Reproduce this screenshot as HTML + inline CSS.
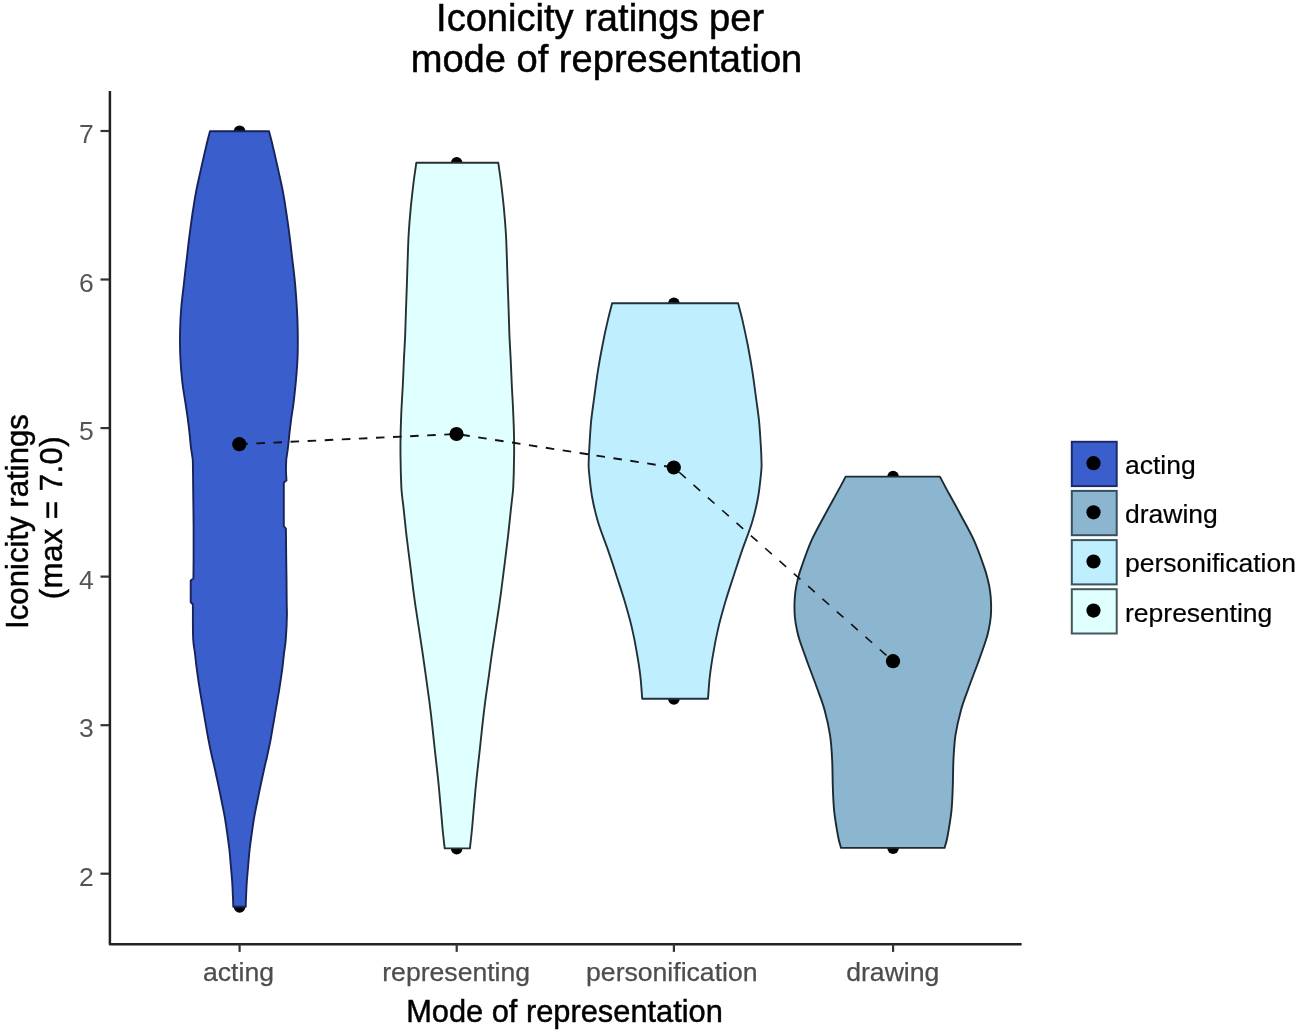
<!DOCTYPE html>
<html lang="en"><head><meta charset="utf-8"><title>Iconicity ratings per mode of representation</title>
<style>html,body{margin:0;padding:0;background:#fff}svg{display:block;filter:blur(0.45px)}text{font-family:"Liberation Sans",Arial,sans-serif}</style></head><body>
<svg width="1299" height="1031" viewBox="0 0 1299 1031">
<rect width="1299" height="1031" fill="#fff"/>
<g font-size="38.1" fill="#000" stroke="#000" stroke-width="0.5" text-anchor="middle"><text x="600.1" y="31.2">Iconicity ratings per</text><text x="606.5" y="71.9">mode of representation</text></g>
<circle cx="239.6" cy="131.2" r="5.8" fill="#000"/>
<circle cx="239.6" cy="907.0" r="5.8" fill="#000"/>
<circle cx="456.7" cy="162.8" r="5.8" fill="#000"/>
<circle cx="456.7" cy="848.6" r="5.8" fill="#000"/>
<circle cx="673.9" cy="303.3" r="5.8" fill="#000"/>
<circle cx="673.9" cy="698.9" r="5.8" fill="#000"/>
<circle cx="893.1" cy="476.6" r="5.8" fill="#000"/>
<circle cx="893.1" cy="848.1" r="5.8" fill="#000"/>
<path d="M210.0 131.2C209.2 134.4 208.3 137.7 207.5 140.8C206.7 143.9 206.5 144.9 205.3 150.0C204.1 155.1 202.0 164.4 200.4 171.6C198.8 178.8 197.1 185.9 195.8 193.1C194.5 200.3 193.4 207.5 192.3 214.7C191.3 221.9 190.3 229.2 189.4 236.2C188.5 243.2 187.9 248.9 187.0 256.5C186.1 264.1 185.0 273.4 184.1 281.8C183.2 290.2 182.0 299.0 181.3 307.0C180.6 315.0 180.3 321.8 180.1 330.0C179.9 338.2 180.0 347.7 180.3 356.2C180.7 364.7 181.3 373.1 182.2 380.9C183.0 388.6 184.5 396.6 185.4 402.7C186.3 408.8 186.9 412.4 187.6 417.3C188.2 422.2 188.9 427.0 189.4 431.8C189.9 436.6 190.4 442.5 190.8 446.4C191.3 450.3 191.8 452.7 192.1 455.1C192.4 457.5 192.7 458.1 192.8 460.9C193.0 463.7 192.9 468.7 193.0 472.0C193.1 475.3 193.1 478.8 193.1 480.5C193.1 482.2 193.1 479.4 193.1 482.5C193.1 485.6 193.2 491.8 193.3 499.0C193.4 506.2 193.6 521.1 193.6 526.0C193.6 530.9 193.6 523.3 193.6 528.5C193.6 533.7 193.6 548.7 193.6 557.0C193.6 565.3 193.4 578.5 193.4 578.5L190.7 580.5L190.7 602.0L192.9 604.5C192.9 604.5 192.9 609.2 192.9 615.0C192.9 620.8 192.8 632.7 193.2 639.1C193.5 645.5 194.4 648.8 195.0 653.6C195.6 658.5 196.0 663.4 196.7 668.2C197.3 673.1 198.0 677.9 198.7 682.7C199.4 687.6 200.2 692.4 201.1 697.3C201.9 702.1 202.7 706.9 203.6 711.8C204.4 716.6 205.2 721.5 206.1 726.4C206.9 731.2 207.7 736.0 208.7 740.9C209.6 745.8 210.8 751.2 211.7 755.5C212.6 759.8 213.3 761.9 214.3 766.5C215.3 771.1 216.7 777.5 217.9 783.0C219.1 788.5 220.2 794.0 221.3 799.5C222.4 805.0 223.6 810.5 224.6 816.0C225.6 821.5 226.3 827.0 227.1 832.5C227.9 838.0 228.7 843.5 229.3 849.0C230.0 854.5 230.3 860.0 230.8 865.5C231.3 871.0 231.8 876.5 232.2 882.0C232.6 887.5 232.8 894.4 233.0 898.5C233.2 902.6 233.2 904.0 233.3 906.8L245.7 906.8C245.8 904.0 245.8 902.6 246.0 898.5C246.2 894.4 246.4 887.5 246.8 882.0C247.2 876.5 247.7 871.0 248.2 865.5C248.7 860.0 249.0 854.5 249.7 849.0C250.3 843.5 251.1 838.0 251.9 832.5C252.7 827.0 253.4 821.5 254.4 816.0C255.4 810.5 256.6 805.0 257.7 799.5C258.8 794.0 259.9 788.5 261.1 783.0C262.3 777.5 263.7 771.1 264.7 766.5C265.7 761.9 266.4 759.8 267.3 755.5C268.2 751.2 269.4 745.8 270.4 740.9C271.3 736.0 272.1 731.2 272.9 726.4C273.8 721.5 274.6 716.6 275.4 711.8C276.3 706.9 277.1 702.1 277.9 697.3C278.8 692.4 279.6 687.6 280.3 682.7C281.0 677.9 281.7 673.1 282.4 668.2C283.0 663.4 283.4 658.5 284.0 653.6C284.6 648.8 285.3 645.5 285.8 639.1C286.3 632.7 286.8 620.8 286.9 615.0C287.0 609.2 286.7 606.7 286.7 604.5C286.7 602.3 286.7 606.0 286.7 602.0C286.7 598.0 286.5 584.4 286.5 580.5C286.5 576.6 286.6 582.4 286.5 578.5C286.4 574.6 286.3 565.3 286.2 557.0C286.1 548.7 285.9 528.5 285.9 528.5L283.8 526.0C283.8 526.0 283.8 506.2 283.8 499.0C283.8 491.8 283.8 482.5 283.8 482.5L286.5 480.5C286.5 480.5 286.1 475.3 286.0 472.0C285.9 468.7 286.1 463.7 286.2 460.9C286.3 458.1 286.6 457.5 286.9 455.1C287.2 452.7 287.7 450.3 288.1 446.4C288.6 442.5 289.1 436.6 289.6 431.8C290.2 427.0 290.8 422.2 291.4 417.3C292.1 412.4 292.9 408.8 293.6 402.7C294.3 396.6 295.2 388.6 295.9 380.9C296.6 373.1 297.3 364.7 297.6 356.2C297.9 347.7 297.8 338.2 297.7 330.0C297.6 321.8 297.3 315.0 296.8 307.0C296.3 299.0 295.7 290.2 294.9 281.8C294.1 273.4 292.9 264.1 292.0 256.5C291.1 248.9 290.5 243.2 289.6 236.2C288.7 229.2 287.7 221.9 286.6 214.7C285.6 207.5 284.5 200.3 283.2 193.1C281.9 185.9 280.2 178.8 278.6 171.6C277.0 164.4 274.9 155.1 273.7 150.0C272.5 144.9 272.3 143.9 271.5 140.8C270.7 137.7 269.8 134.4 269.0 131.2Z" fill="#3A5FCD" stroke="#172359" stroke-width="1.9" stroke-linejoin="round"/>
<path d="M416.3 162.8C415.4 169.5 414.4 175.4 413.5 183.0C412.6 190.6 411.5 199.9 410.7 208.3C409.9 216.7 409.2 225.1 408.7 233.5C408.2 241.9 408.0 250.3 407.7 258.7C407.4 267.1 407.2 275.5 406.9 283.9C406.6 292.3 406.3 300.8 406.0 309.2C405.7 317.6 405.5 326.0 405.2 334.4C404.9 342.8 404.3 351.1 403.9 359.6C403.6 368.1 403.2 376.7 402.8 385.2C402.4 393.7 401.8 402.0 401.4 410.4C401.1 418.8 400.7 427.3 400.6 435.7C400.4 444.1 400.4 452.5 400.6 460.9C400.7 469.3 401.0 479.8 401.3 486.1C401.6 492.4 402.0 494.5 402.4 498.7C402.9 502.9 403.3 505.0 403.9 511.3C404.6 517.6 405.6 528.1 406.6 536.5C407.6 544.9 408.7 553.4 409.8 561.8C410.8 570.2 411.8 578.6 412.9 587.0C414.0 595.4 414.8 601.6 416.4 612.2C418.0 622.8 420.7 639.8 422.2 650.4C423.8 661.0 424.6 667.3 425.8 675.7C426.9 684.1 428.2 692.5 429.3 700.9C430.4 709.3 431.4 717.7 432.3 726.1C433.2 734.5 434.1 742.9 435.0 751.3C435.9 759.7 436.9 768.1 437.8 776.5C438.7 784.9 439.5 793.4 440.2 801.8C441.0 810.2 441.7 819.2 442.4 827.0C443.1 834.8 443.9 841.3 444.7 848.4L469.9 848.4C470.7 841.3 471.5 834.8 472.2 827.0C472.9 819.2 473.6 810.2 474.4 801.8C475.1 793.4 475.9 784.9 476.8 776.5C477.7 768.1 478.7 759.7 479.6 751.3C480.5 742.9 481.4 734.5 482.3 726.1C483.2 717.7 484.2 709.3 485.3 700.9C486.4 692.5 487.7 684.1 488.9 675.7C490.0 667.3 490.8 661.0 492.4 650.4C493.9 639.8 496.6 622.8 498.2 612.2C499.8 601.6 500.6 595.4 501.7 587.0C502.8 578.6 503.8 570.2 504.9 561.8C505.9 553.4 507.0 544.9 508.0 536.5C509.0 528.1 510.0 517.6 510.7 511.3C511.3 505.0 511.7 502.9 512.1 498.7C512.6 494.5 513.0 492.4 513.3 486.1C513.6 479.8 513.9 469.3 514.0 460.9C514.2 452.5 514.2 444.1 514.0 435.7C513.9 427.3 513.5 418.8 513.1 410.4C512.8 402.0 512.2 393.7 511.8 385.2C511.4 376.7 511.1 368.1 510.7 359.6C510.3 351.1 509.7 342.8 509.4 334.4C509.1 326.0 508.9 317.6 508.6 309.2C508.3 300.8 508.0 292.3 507.7 283.9C507.4 275.5 507.2 267.1 506.9 258.7C506.6 250.3 506.4 241.9 505.9 233.5C505.4 225.1 504.7 216.7 503.9 208.3C503.1 199.9 502.0 190.6 501.1 183.0C500.2 175.4 499.2 169.5 498.3 162.8Z" fill="#E0FFFF" stroke="#263232" stroke-width="1.9" stroke-linejoin="round"/>
<path d="M612.1 303.3C610.6 309.0 609.4 313.3 607.8 320.4C606.1 327.5 604.0 337.3 602.4 345.7C600.7 354.1 599.2 362.5 597.9 370.9C596.6 379.3 595.5 387.7 594.4 396.1C593.3 404.5 592.0 412.9 591.1 421.3C590.3 429.7 589.8 439.8 589.4 446.5C588.9 453.2 588.8 457.5 588.7 461.7C588.6 465.9 588.4 465.9 589.0 471.8C589.6 477.7 590.6 488.6 592.1 497.0C593.6 505.4 595.4 513.3 598.1 522.2C600.8 531.1 605.0 541.5 608.1 550.4C611.2 559.3 613.8 567.3 616.5 575.7C619.2 584.1 622.1 592.5 624.6 600.9C627.1 609.3 629.5 617.7 631.5 626.1C633.5 634.5 635.2 642.9 636.6 651.3C638.1 659.7 639.5 668.6 640.4 676.5C641.3 684.4 641.6 691.3 642.2 698.7L708.0 698.7C708.6 691.3 708.9 684.4 709.8 676.5C710.7 668.6 712.1 659.7 713.6 651.3C715.0 642.9 716.7 634.5 718.7 626.1C720.7 617.7 723.1 609.3 725.6 600.9C728.1 592.5 731.0 584.1 733.7 575.7C736.5 567.3 739.0 559.3 742.1 550.4C745.2 541.5 749.4 531.1 752.1 522.2C754.8 513.3 756.6 505.4 758.1 497.0C759.6 488.6 760.6 477.7 761.2 471.8C761.8 465.9 761.6 465.9 761.5 461.7C761.4 457.5 761.3 453.2 760.9 446.5C760.4 439.8 759.9 429.7 759.1 421.3C758.2 412.9 756.9 404.5 755.8 396.1C754.7 387.7 753.6 379.3 752.3 370.9C751.0 362.5 749.5 354.1 747.9 345.7C746.2 337.3 744.1 327.5 742.5 320.4C740.8 313.3 739.6 309.0 738.1 303.3Z" fill="#BFEFFF" stroke="#22303c" stroke-width="1.9" stroke-linejoin="round"/>
<path d="M845.7 476.6C843.2 481.2 841.9 483.9 838.3 490.4C834.8 496.9 828.9 507.3 824.4 515.7C819.9 524.1 815.1 532.5 811.3 540.9C807.6 549.3 804.0 559.8 801.8 566.1C799.5 572.4 799.0 574.5 797.9 578.7C796.9 582.9 796.0 587.1 795.4 591.3C794.9 595.5 794.6 599.7 794.5 603.9C794.4 608.1 794.5 612.3 794.8 616.5C795.2 620.7 795.9 625.0 796.8 629.2C797.6 633.4 798.3 636.2 800.1 641.8C802.0 647.4 804.9 655.3 807.7 663.0C810.5 670.7 814.2 680.1 817.0 688.0C819.8 695.9 822.5 702.4 824.7 710.4C826.9 718.4 828.9 727.3 830.1 735.7C831.4 744.1 831.8 752.5 832.2 760.9C832.6 769.3 832.5 777.7 832.8 786.1C833.1 794.5 833.3 802.9 834.2 811.3C835.1 819.7 837.0 830.4 838.1 836.5C839.2 842.6 840.0 844.1 841.0 847.9L944.6 847.9C945.6 844.1 946.4 842.6 947.5 836.5C948.6 830.4 950.5 819.7 951.4 811.3C952.3 802.9 952.5 794.5 952.8 786.1C953.1 777.7 953.0 769.3 953.4 760.9C953.8 752.5 954.2 744.1 955.4 735.7C956.7 727.3 958.7 718.4 960.9 710.4C963.1 702.4 965.8 695.9 968.6 688.0C971.4 680.1 975.1 670.7 977.9 663.0C980.7 655.3 983.6 647.4 985.4 641.8C987.3 636.2 988.0 633.4 988.8 629.2C989.7 625.0 990.4 620.7 990.8 616.5C991.1 612.3 991.2 608.1 991.1 603.9C991.0 599.7 990.7 595.5 990.1 591.3C989.6 587.1 988.7 582.9 987.6 578.7C986.6 574.5 986.1 572.4 983.8 566.1C981.6 559.8 978.0 549.3 974.2 540.9C970.5 532.5 965.6 524.1 961.1 515.7C956.6 507.3 950.8 496.9 947.2 490.4C943.7 483.9 942.4 481.2 939.9 476.6Z" fill="#8CB5CF" stroke="#1c2a32" stroke-width="1.9" stroke-linejoin="round"/>
<polyline points="239.3,444.2 456.5,434.0 673.8,467.5" fill="none" stroke="#111" stroke-width="1.9" stroke-dasharray="8.55 8.55"/>
<path d="M673.8 467.5L893.0 661.2" fill="none" stroke="#111" stroke-width="1.6" stroke-dasharray="8.9 10.22" stroke-dashoffset="11.92"/>
<circle cx="239.3" cy="444.2" r="7.1" fill="#000"/>
<circle cx="456.5" cy="434.0" r="7.1" fill="#000"/>
<circle cx="673.8" cy="467.5" r="7.1" fill="#000"/>
<circle cx="893.0" cy="661.2" r="7.1" fill="#000"/>
<path d="M109.9 91V944.2H1021.6" stroke="#222" stroke-width="2.5" fill="none" stroke-linejoin="round"/>
<g stroke="#333" stroke-width="2.2" fill="none">
<path d="M100.5 873.7H109"/>
<path d="M100.5 725.2H109"/>
<path d="M100.5 576.6H109"/>
<path d="M100.5 428.1H109"/>
<path d="M100.5 279.5H109"/>
<path d="M100.5 131.0H109"/>
<path d="M239.6 944V951.9"/>
<path d="M456.7 944V951.9"/>
<path d="M673.9 944V951.9"/>
<path d="M893.1 944V951.9"/>
</g>
<g font-size="26.5" fill="#555" text-anchor="end">
<text x="93.8" y="885.8">2</text>
<text x="93.8" y="737.3">3</text>
<text x="93.8" y="588.7">4</text>
<text x="93.8" y="440.2">5</text>
<text x="93.8" y="291.6">6</text>
<text x="93.8" y="143.1">7</text>
</g>
<g font-size="26.6" fill="#4d4d4d" stroke="#4d4d4d" stroke-width="0.25" text-anchor="middle">
<text x="238.5" y="981.2">acting</text>
<text x="456.2" y="981.2">representing</text>
<text x="671.8" y="981.2">personification</text>
<text x="892.8" y="981.2">drawing</text>
</g>
<text x="564.5" y="1021.5" font-size="30.8" fill="#000" stroke="#000" stroke-width="0.45" text-anchor="middle">Mode of representation</text>
<g font-size="31.2" fill="#000" stroke="#000" stroke-width="0.45" text-anchor="middle"><text transform="translate(28.2 521.5) rotate(-90)">Iconicity ratings</text><text transform="translate(62.2 517.6) rotate(-90)" letter-spacing="0.45">(max = 7.0)</text></g>
<rect x="1071.8" y="441.8" width="44.9" height="44.3" fill="#3A5FCD" stroke="#1d2b6b" stroke-width="2"/>
<circle cx="1093.5" cy="463.2" r="7.1" fill="#000"/>
<text x="1125.0" y="474.1" font-size="26.5" fill="#000" stroke="#000" stroke-width="0.2">acting</text>
<rect x="1071.8" y="490.9" width="44.9" height="44.3" fill="#8CB5D0" stroke="#36505d" stroke-width="2"/>
<circle cx="1093.5" cy="512.3" r="7.1" fill="#000"/>
<text x="1125.0" y="523.2" font-size="26.5" fill="#000" stroke="#000" stroke-width="0.2">drawing</text>
<rect x="1071.8" y="540.1" width="44.9" height="44.3" fill="#BFEFFF" stroke="#3b535e" stroke-width="2"/>
<circle cx="1093.5" cy="561.5" r="7.1" fill="#000"/>
<text x="1125.0" y="572.4" font-size="26.5" fill="#000" stroke="#000" stroke-width="0.2">personification</text>
<rect x="1071.8" y="589.2" width="44.9" height="44.3" fill="#E0FFFF" stroke="#44575a" stroke-width="2"/>
<circle cx="1093.5" cy="610.6" r="7.1" fill="#000"/>
<text x="1125.0" y="621.5" font-size="26.5" fill="#000" stroke="#000" stroke-width="0.2">representing</text>
</svg></body></html>
